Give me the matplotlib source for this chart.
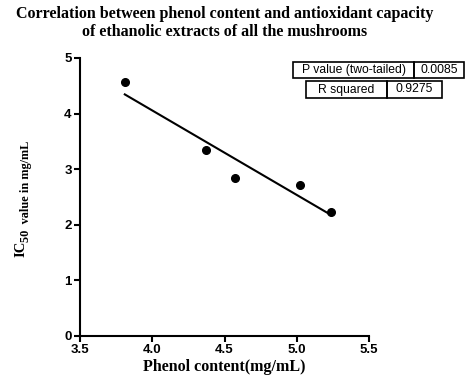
import matplotlib
matplotlib.use('Agg')
import matplotlib.pyplot as plt
import numpy as np

phenol = [3.81, 4.37, 4.57, 5.02, 5.24]
ic50 = [4.56, 3.35, 2.85, 2.72, 2.23]
x_ticks = [3.5, 4.0, 4.5, 5.0, 5.5]
y_ticks = [0, 1, 2, 3, 4, 5]
stats_labels = ['P value (two-tailed)', 'R squared']
stats_values = ['0.0085', '0.9275']

W, H = 474, 387
fig = plt.figure(figsize=(W / 100, H / 100), dpi=100)
ax = fig.add_axes([80 / W, 1 - 336 / H, 289 / W, 278 / H])

# regression line
slope, intercept = np.polyfit(phenol, ic50, 1)
xs = np.array([min(phenol), max(phenol)])
ax.plot(xs, slope * xs + intercept, color='black', lw=1.5, zorder=2)
ax.plot(phenol, ic50, 'o', color='black', ms=5.5, zorder=3)

ax.set_xlim(3.5, 5.5)
ax.set_ylim(0, 5)
ax.set_xticks(x_ticks)
ax.set_yticks(y_ticks)
ax.set_xticklabels(['%.1f' % v for v in x_ticks])
for sp in ['top', 'right']:
    ax.spines[sp].set_visible(False)
for sp in ['left', 'bottom']:
    ax.spines[sp].set_linewidth(1.5)
ax.tick_params(direction='out', length=4, width=1.5, pad=2)
for lbl in ax.get_xticklabels() + ax.get_yticklabels():
    lbl.set_fontfamily('Liberation Sans')
    lbl.set_fontweight('bold')
    lbl.set_fontsize(9.5)

ax.set_xlabel('Phenol content(mg/mL)', family='Liberation Serif', fontweight='bold', fontsize=11.5, labelpad=2)

# y label: big "IC", smaller subscript-like rest
fig.text(24 / W, 1 - 257 / H, 'IC', rotation=90, rotation_mode='anchor', ha='left', va='baseline',
         family='Liberation Serif', fontweight='bold', fontsize=10.5)
fig.text(29 / W, 1 - 242 / H, '50  value in mg/mL', rotation=90, rotation_mode='anchor', ha='left',
         va='baseline', family='Liberation Serif', fontweight='bold', fontsize=8.8)

fig.text(225 / W, 1 - 23 / H,
         'Correlation between phenol content and antioxidant capacity\nof ethanolic extracts of all the mushrooms',
         family='Liberation Serif', fontweight='bold', fontsize=11.5, ha='center', va='center', linespacing=1.15)

# stats boxes (pixel coordinates in figure)
boxes = [(293, 414, 464, 62, 78), (306, 387, 442, 81, 98)]
for (x0, xm, x1, y0, y1), lab, val in zip(boxes, stats_labels, stats_values):
    for a, b, t in [(x0, xm, lab), (xm, x1, val)]:
        rect = plt.Rectangle((a / W, 1 - y1 / H), (b - a) / W, (y1 - y0) / H,
                             transform=fig.transFigure, fill=False, ec='black', lw=1.2)
        fig.add_artist(rect)
        fig.text((a + b) / 2 / W, 1 - (y0 + y1) / 2 / H, t, family='Liberation Sans',
                 fontsize=8.7, ha='center', va='center')

fig.savefig('out.png', dpi=100)
